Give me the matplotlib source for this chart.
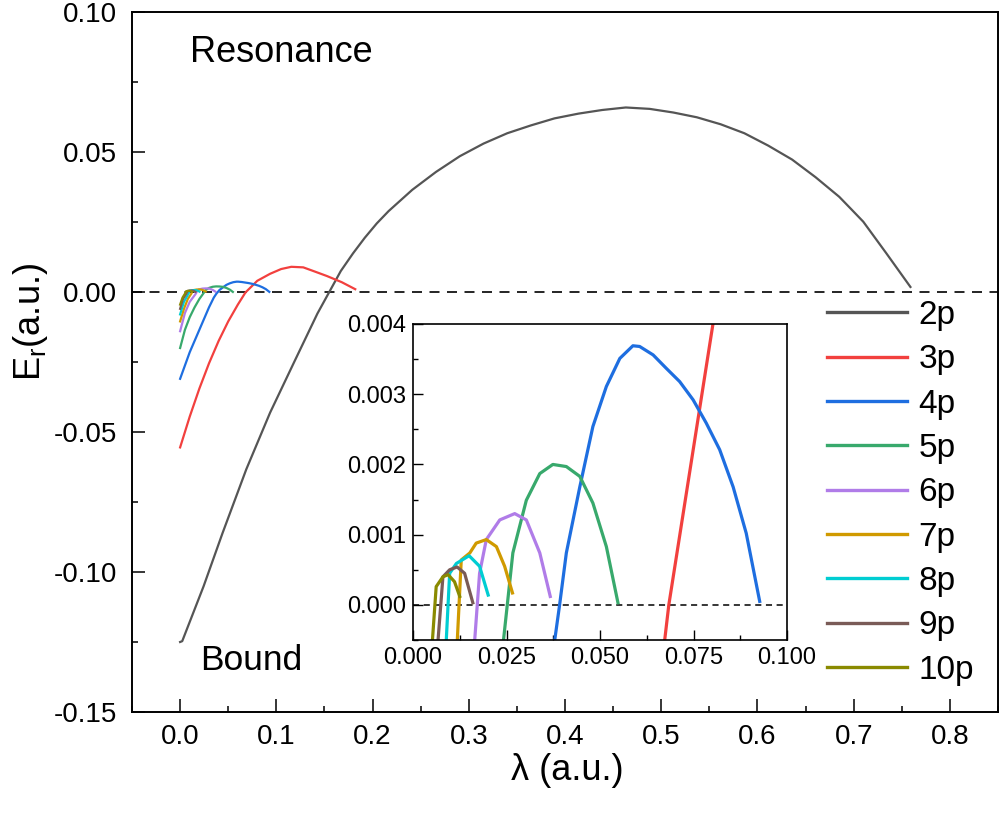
import matplotlib
matplotlib.use("Agg")
import matplotlib.pyplot as plt
from matplotlib.ticker import MultipleLocator

plt.rcParams['font.family'] = ['Liberation Sans', 'DejaVu Sans']
plt.rcParams['mathtext.fontset'] = 'custom'
plt.rcParams['mathtext.rm'] = 'Liberation Sans'
plt.rcParams['mathtext.it'] = 'Liberation Sans:italic'

# ---------------- data ----------------
labels = ['2p', '3p', '4p', '5p', '6p', '7p', '8p', '9p', '10p']
colors = ['#555555', '#F2403E', '#1E6EE0', '#38A96C', '#B07CE8',
          '#D09A00', '#00CDD2', '#7A5B57', '#8A8A00']

lam_2p = [0.0, 0.0022, 0.0244, 0.0441, 0.0688, 0.0935, 0.118, 0.1427, 0.167,
          0.1797, 0.192, 0.2044, 0.2167, 0.2413, 0.266, 0.2907, 0.3153, 0.340,
          0.3646, 0.389, 0.4139, 0.4386, 0.4632, 0.488, 0.5126, 0.537, 0.5618,
          0.5864, 0.6111, 0.636, 0.6604, 0.685, 0.6974, 0.710, 0.734, 0.759]
E_2p = [-0.1250, -0.1247, -0.1051, -0.0861, -0.0633, -0.0431, -0.0254, -0.0077,
        0.0075, 0.0138, 0.0194, 0.0245, 0.0289, 0.0365, 0.0429, 0.0485, 0.0530,
        0.0567, 0.0595, 0.0620, 0.0637, 0.0650, 0.0659, 0.0654, 0.0641, 0.0624,
        0.0599, 0.0567, 0.0523, 0.0473, 0.0410, 0.0340, 0.0296, 0.0251, 0.0138,
        0.0018]

lam_3p = [0.0, 0.01, 0.02, 0.03, 0.04, 0.05, 0.06, 0.0673, 0.0684, 0.0802,
          0.0935, 0.105, 0.1156, 0.128, 0.140, 0.1526, 0.168, 0.182]
E_3p = [-0.0555, -0.0445, -0.0345, -0.0255, -0.0175, -0.0105, -0.0045, -0.0005,
        0.0, 0.0040, 0.0065, 0.0082, 0.0090, 0.0088, 0.0073, 0.0057, 0.0035, 0.0010]

lam_4p = [0.0, 0.01, 0.02, 0.03, 0.035, 0.0379, 0.0392, 0.041, 0.0446, 0.0481,
          0.0517, 0.0553, 0.0588, 0.0606, 0.0642, 0.0677, 0.0713, 0.0749, 0.0784,
          0.082, 0.0856, 0.0891, 0.0927]
E_4p = [-0.0310, -0.0215, -0.0135, -0.0055, -0.0020, -0.0005, 0.0, 0.00074,
        0.00168, 0.00254, 0.00311, 0.00351, 0.00369, 0.00368, 0.00356, 0.00337,
        0.00318, 0.00292, 0.00259, 0.00221, 0.00168, 0.00102, 0.00005]

lam_5p = [0.0, 0.005, 0.010, 0.015, 0.020, 0.0242, 0.0267, 0.0303, 0.0339,
          0.0374, 0.041, 0.0446, 0.0481, 0.0517, 0.0548]
E_5p = [-0.0200, -0.0135, -0.0090, -0.0055, -0.0025, -0.0005, 0.00074, 0.00149,
        0.00187, 0.00200, 0.00197, 0.00183, 0.00145, 0.00083, 0.00003]

lam_6p = [0.0, 0.005, 0.010, 0.015, 0.0165, 0.0178, 0.0196, 0.0232, 0.0272,
          0.0303, 0.0339, 0.0367]
E_6p = [-0.0140, -0.0075, -0.0035, -0.0012, -0.0005, 0.00045, 0.00093, 0.00121,
        0.00130, 0.00121, 0.00074, 0.00012]

lam_7p = [0.0, 0.004, 0.008, 0.01185, 0.0129, 0.0152, 0.0169, 0.0196, 0.0223,
          0.0245, 0.0266]
E_7p = [-0.0105, -0.0060, -0.0025, -0.0005, 0.00064, 0.00074, 0.00088, 0.00093,
        0.00083, 0.00055, 0.00017]

lam_8p = [0.0, 0.004, 0.0089, 0.0098, 0.0116, 0.0150, 0.0178, 0.0201]
E_8p = [-0.0080, -0.0035, -0.0005, 0.00045, 0.00059, 0.00070, 0.00055, 0.00014]

lam_9p = [0.0, 0.003, 0.0067, 0.0080, 0.0098, 0.0118, 0.0138, 0.0160]
E_9p = [-0.0060, -0.0025, -0.0005, 0.00040, 0.00050, 0.00054, 0.00045, 0.00003]

lam_10p = [0.0, 0.0025, 0.0052, 0.0062, 0.0080, 0.0094, 0.0111, 0.0125]
E_10p = [-0.0045, -0.0020, -0.0005, 0.00026, 0.00040, 0.00043, 0.00033, 0.00012]

series_x = [lam_2p, lam_3p, lam_4p, lam_5p, lam_6p, lam_7p, lam_8p, lam_9p, lam_10p]
series_y = [E_2p, E_3p, E_4p, E_5p, E_6p, E_7p, E_8p, E_9p, E_10p]

main_xticks = [0.0, 0.1, 0.2, 0.3, 0.4, 0.5, 0.6, 0.7, 0.8]
main_yticks = [-0.15, -0.10, -0.05, 0.00, 0.05, 0.10]
main_yticklabels = ['-0.15', '-0.10', '-0.05', '0.00', '0.05', '0.10']
inset_xticks = [0.0, 0.025, 0.05, 0.075, 0.1]
inset_xticklabels = ['0.000', '0.025', '0.050', '0.075', '0.100']
inset_yticks = [0.0, 0.001, 0.002, 0.003, 0.004]
inset_yticklabels = ['0.000', '0.001', '0.002', '0.003', '0.004']

# ---------------- figure ----------------
fig = plt.figure(figsize=(10.01, 8.16), dpi=100)
ax = fig.add_axes([132/1001, 1-712/816, 866/1001, 700/816])

lines = []
for x, y, c, lab in zip(series_x, series_y, colors, labels):
    ln, = ax.plot(x, y, color=c, lw=1.6, label=lab, solid_joinstyle='round')
    lines.append(ln)
ax.axhline(0, color='black', lw=1.2, ls=(0, (6, 4.5)), zorder=0.5)

ax.set_xlim(-0.05, 0.85)
ax.set_ylim(-0.15, 0.10)
ax.set_xticks(main_xticks)
ax.set_xticklabels([f'{v:.1f}' for v in main_xticks])
ax.xaxis.set_minor_locator(MultipleLocator(0.05))
ax.set_yticks(main_yticks)
ax.set_yticklabels(main_yticklabels)
ax.yaxis.set_minor_locator(MultipleLocator(0.025))
ax.tick_params(which='both', direction='in', top=False, right=False,
               labelsize=20, width=1.1)
ax.tick_params(which='major', length=9.5)
ax.tick_params(which='minor', length=4.5)
ax.tick_params(axis='x', pad=9)
ax.tick_params(axis='y', pad=11)
for s in ax.spines.values():
    s.set_linewidth(1.4)

ax.text(190/1001, 1-52/816, 'Resonance', transform=fig.transFigure,
        fontsize=26, ha='left', va='center')
ax.text(200/1001, 1-661/816, 'Bound', transform=fig.transFigure,
        fontsize=25.5, ha='left', va='center')

fig.text(567/1001, 1-770/816, 'λ (a.u.)', fontsize=26, ha='center', va='center')
fig.text(31/1001, 1-322/816, r'E$_\mathrm{r}$(a.u.)', fontsize=26,
         rotation=90, ha='center', va='center')

leg = ax.legend(handles=lines, loc='upper left',
                bbox_to_anchor=(827/1001, 1-300/816),
                bbox_transform=fig.transFigure, frameon=False, fontsize=24,
                handlelength=2.4, handletextpad=0.35, labelspacing=0.4,
                borderpad=0, borderaxespad=0)
for h in leg.get_lines():
    h.set_linewidth(2.4)

# ---------------- inset ----------------
axi = fig.add_axes([413/1001, 1-640/816, 374/1001, 316/816])
for x, y, c in zip(series_x, series_y, colors):
    axi.plot(x, y, color=c, lw=2.3, solid_joinstyle='round')
axi.axhline(0, color='black', lw=1.1, ls=(0, (4, 3)), zorder=0.5)
axi.set_xlim(0, 0.1)
axi.set_ylim(-0.0005, 0.004)
axi.set_xticks(inset_xticks)
axi.set_xticklabels(inset_xticklabels)
axi.set_yticks(inset_yticks)
axi.set_yticklabels(inset_yticklabels)
axi.xaxis.set_minor_locator(MultipleLocator(0.0125))
axi.yaxis.set_minor_locator(MultipleLocator(0.0005))
axi.tick_params(which='both', direction='in', top=False, right=False,
                labelsize=17, width=1.0)
axi.tick_params(which='major', length=7)
axi.tick_params(which='minor', length=3.5)
axi.tick_params(axis='x', pad=5)
axi.tick_params(axis='y', pad=5)
for s in axi.spines.values():
    s.set_linewidth(1.2)

fig.savefig('out.png', dpi=100)
